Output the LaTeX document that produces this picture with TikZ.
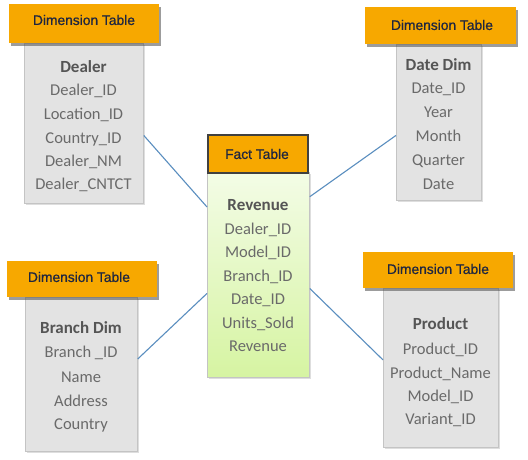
\documentclass[tikz,border=0pt]{standalone}
\usepackage{fontspec}
\setmainfont{Carlito}
\newfontfamily\hdrfont[FakeBold=0.8]{Liberation Sans}
\usetikzlibrary{calc}
\definecolor{hdrorange}{HTML}{F7A800}
\definecolor{hdrtext}{HTML}{1F2640}
\definecolor{boxgray}{HTML}{E3E3E3}
\definecolor{boxedge}{HTML}{C4C4C4}
\definecolor{itemtext}{HTML}{6A6A6A}
\definecolor{titletext}{HTML}{555555}
\definecolor{linkblue}{HTML}{5A8EBF}
\definecolor{greentop}{HTML}{F3FCE6}
\definecolor{greenbot}{HTML}{D6F4A2}
\tikzset{
  graybox/.style={draw=boxedge, line width=0.8pt, fill=boxgray, inner sep=0pt, anchor=north west},
  greenbox/.style={draw=boxedge, line width=0.8pt, top color=greentop, bottom color=greenbot, inner sep=0pt, anchor=north west},
  hdrbox/.style={fill=hdrorange, inner sep=0pt, anchor=north west},
  hdrshadow/.style={fill=black!70, opacity=0.55, inner sep=0pt, anchor=north west},
  hdrlabel/.style={font=\hdrfont\fontsize{13.8}{16}\selectfont, text=hdrtext, inner sep=0pt},
  titleline/.style={font=\bfseries\fontsize{17}{20}\selectfont, text=titletext, inner sep=0pt, anchor=base},
  itemline/.style={font=\fontsize{16.5}{20}\selectfont, text=itemtext, inner sep=0pt, anchor=base},
  link/.style={draw=linkblue, line width=1.1pt},
  boxshadow/.style={fill=black!25, opacity=0.5, inner sep=0pt, anchor=north west}
}
\begin{document}
\begin{tikzpicture}[x=1pt,y=-1pt]
\useasboundingbox (0,0) rectangle (528,459);
\fill[white] (0,0) rectangle (528,459);

% shadows of boxes
\node[boxshadow, minimum width=119pt, minimum height=160pt] at (26,45) {};
\node[boxshadow, minimum width=85pt, minimum height=156pt] at (398,46) {};
\node[boxshadow, minimum width=102pt, minimum height=205pt] at (209,174) {};
\node[boxshadow, minimum width=112pt, minimum height=154pt] at (27,299) {};
\node[boxshadow, minimum width=115pt, minimum height=159pt] at (385,290) {};

% table bodies
\node[graybox, minimum width=119pt, minimum height=160pt] (dealer) at (24,43) {};
\node[graybox, minimum width=85pt, minimum height=156pt] (date) at (396,44) {};
\node[greenbox, minimum width=102pt, minimum height=205pt] (fact) at (207,172) {};
\node[graybox, minimum width=112pt, minimum height=154pt] (branch) at (25,297) {};
\node[graybox, minimum width=115pt, minimum height=159pt] (product) at (383,288) {};

% connectors
\draw[link] ($(dealer.north east)!0.575!(dealer.south east)$) -- ($(fact.north west)!0.17!(fact.south west)$);
\draw[link] ($(date.north west)!0.583!(date.south west)$) -- ($(fact.north east)!0.12!(fact.south east)$);
\draw[link] ($(branch.north east)!0.40!(branch.south east)$) -- ($(fact.north west)!0.59!(fact.south west)$);
\draw[link] ($(product.north west)!0.45!(product.south west)$) -- ($(fact.north east)!0.566!(fact.south east)$);

% header shadows
\node[hdrshadow, minimum width=150pt, minimum height=39pt] at (11,7) {};
\node[hdrshadow, minimum width=151pt, minimum height=37pt] at (367,10) {};
\node[hdrshadow, minimum width=150pt, minimum height=36pt] at (9,264) {};
\node[hdrshadow, minimum width=150pt, minimum height=36pt] at (365,255) {};

% headers
\node[hdrbox, minimum width=150pt, minimum height=39pt] (hdealer) at (9,4) {};
\node[hdrbox, minimum width=151pt, minimum height=37pt] (hdate) at (365,7) {};
\node[hdrbox, draw=black!75, line width=1.6pt, minimum width=100pt, minimum height=38pt] (hfact) at (207,134) {};
\node[hdrbox, minimum width=150pt, minimum height=36pt] (hbranch) at (7,261) {};
\node[hdrbox, minimum width=150pt, minimum height=36pt] (hproduct) at (363,252) {};

\node[hdrlabel] (ldealer) at (84,20) {Dimension Table};
\node[hdrlabel] (ldate) at (442,25) {Dimension Table};
\node[hdrlabel] (lfact) at (257,154) {Fact Table};
\node[hdrlabel] (lbranch) at (79,277) {Dimension Table};
\node[hdrlabel] (lproduct) at (438,269) {Dimension Table};

% Dealer
\node[titleline] (d0) at (83.5,72) {Dealer};
\node[itemline] (d1) at (83.5,95) {Dealer\_ID};
\node[itemline] (d2) at (83.5,119) {Location\_ID};
\node[itemline] (d3) at (83.5,143) {Country\_ID};
\node[itemline] (d4) at (83.5,166) {Dealer\_NM};
\node[itemline] (d5) at (83.5,189) {Dealer\_CNTCT};

% Date Dim
\node[titleline] (t0) at (438.5,70) {Date Dim};
\node[itemline] (t1) at (438.5,93) {Date\_ID};
\node[itemline] (t2) at (438.5,117) {Year};
\node[itemline] (t3) at (438.5,141) {Month};
\node[itemline] (t4) at (438.5,165) {Quarter};
\node[itemline] (t5) at (438.5,189) {Date};

% Revenue
\node[titleline] (f0) at (258,210) {Revenue};
\node[itemline] (f1) at (258,234) {Dealer\_ID};
\node[itemline] (f2) at (258,257) {Model\_ID};
\node[itemline] (f3) at (258,281) {Branch\_ID};
\node[itemline] (f4) at (258,304) {Date\_ID};
\node[itemline] (f5) at (258,328) {Units\_Sold};
\node[itemline] (f6) at (258,351) {Revenue};

% Branch Dim
\node[titleline] (b0) at (81,333) {Branch Dim};
\node[itemline] (b1) at (81,357) {Branch \_ID};
\node[itemline] (b2) at (81,382) {Name};
\node[itemline] (b3) at (81,406) {Address};
\node[itemline] (b4) at (81,429) {Country};

% Product
\node[titleline] (p0) at (440.5,329) {Product};
\node[itemline] (p1) at (440.5,354) {Product\_ID};
\node[itemline] (p2) at (440.5,378) {Product\_Name};
\node[itemline] (p3) at (440.5,401) {Model\_ID};
\node[itemline] (p4) at (440.5,424) {Variant\_ID};
\end{tikzpicture}
\end{document}
